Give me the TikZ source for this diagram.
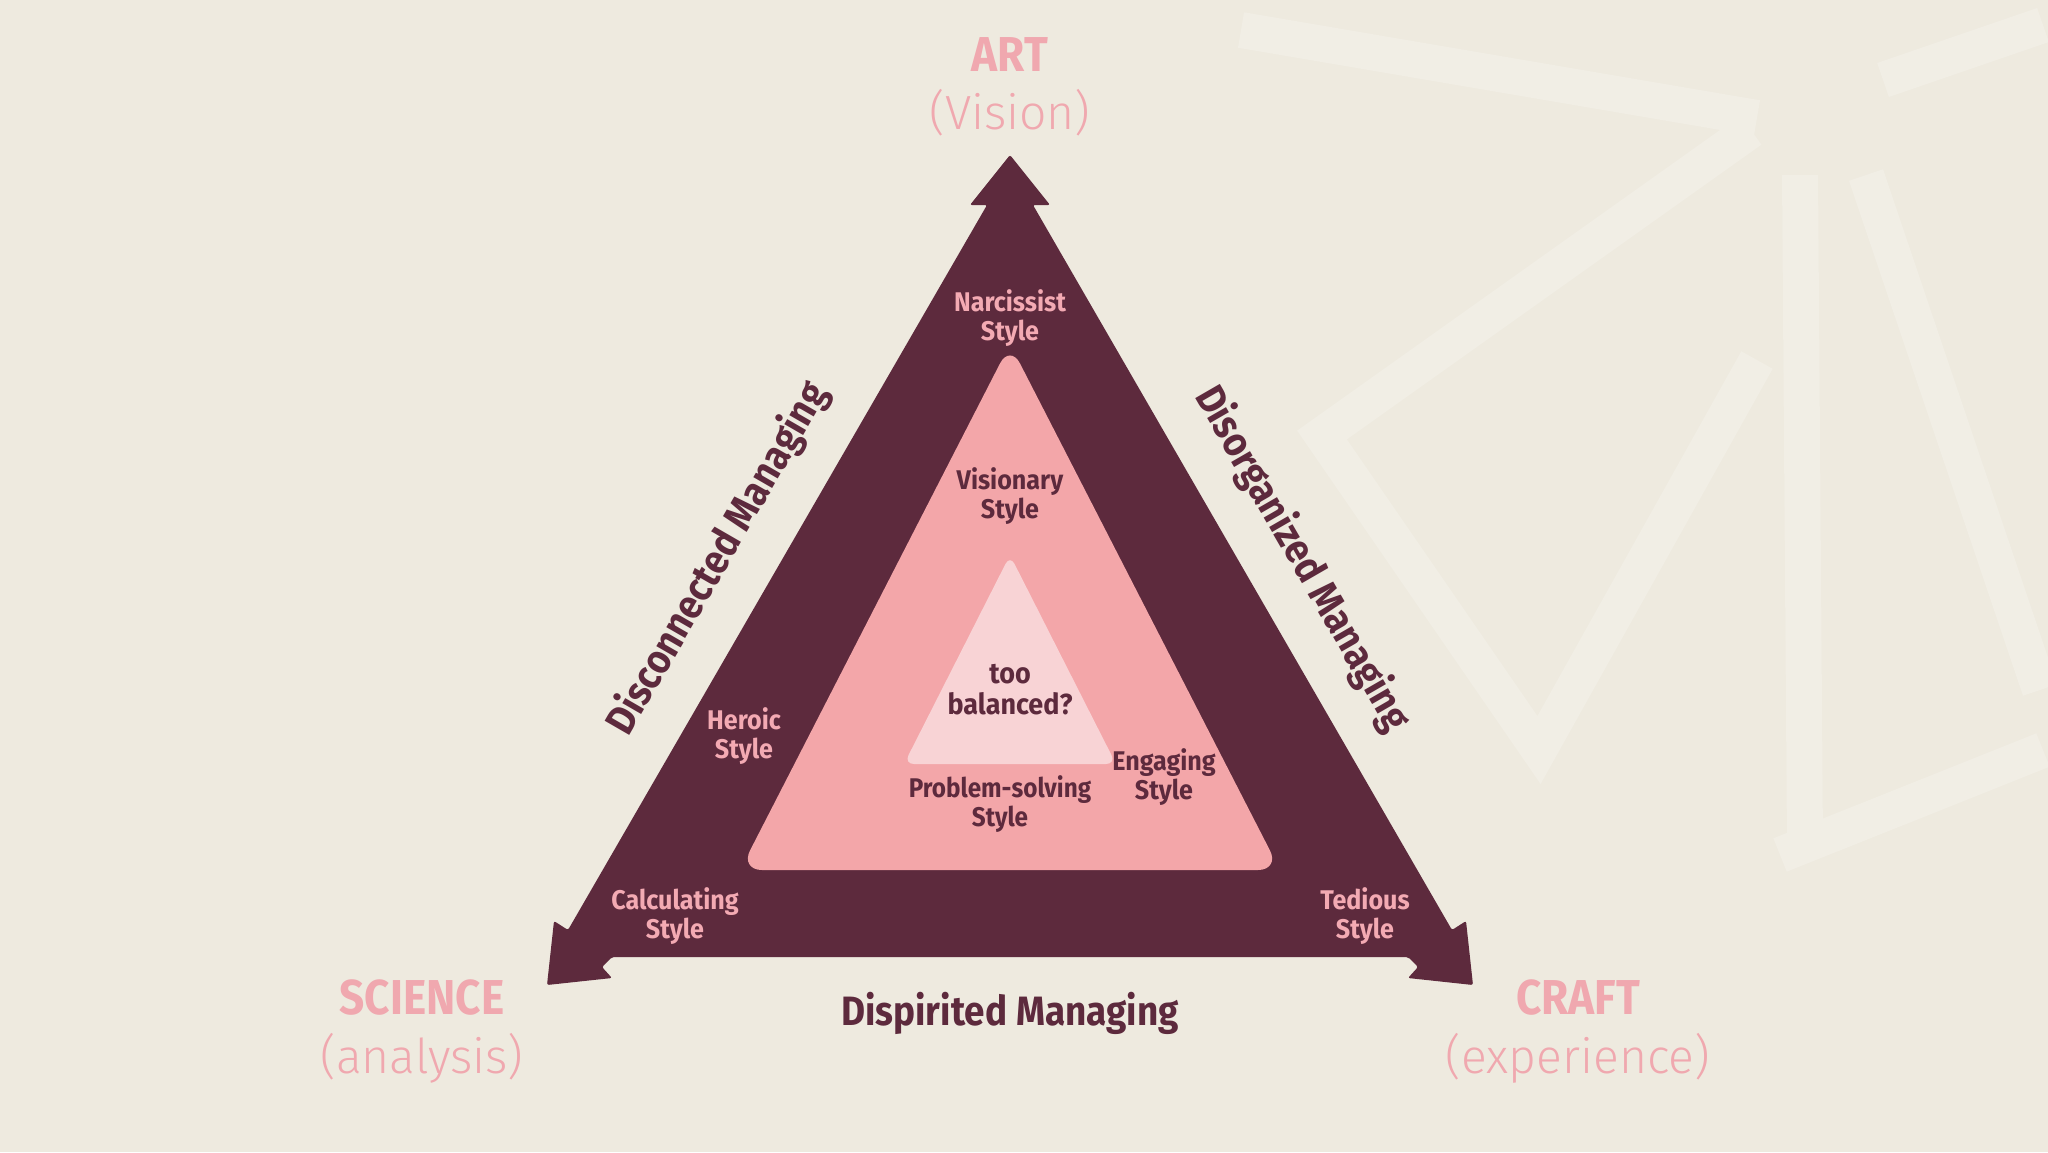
\documentclass[tikz,border=0pt]{standalone}
\usepackage{fontspec}
\setmainfont{Fira Sans}
\newfontfamily\bfc{Fira Sans Bold}[FakeStretch=0.9]
\newfontfamily\bfs{Fira Sans Bold}[FakeStretch=0.93]
\newfontfamily\ltf{Fira Sans Light}
\definecolor{bg}{HTML}{EEEADF}
\definecolor{wm}{HTML}{F1EEE5}
\definecolor{maroon}{HTML}{5D2A3D}
\definecolor{midpink}{HTML}{F3A6A9}
\definecolor{palepink}{HTML}{F8D3D5}
\definecolor{lblpink}{HTML}{F3AAB3}
\definecolor{ttlpink}{HTML}{F0A8AF}
\tikzset{
  stylelbl/.style={font=\bfs\fontsize{27}{29}\selectfont, align=center, inner sep=0pt},
  onDark/.style={stylelbl, text=lblpink},
  onPink/.style={stylelbl, text=maroon},
  sidelbl/.style={font=\bfc\fontsize{41}{44}\selectfont, text=maroon, inner sep=0pt},
  ttl/.style={font=\bfc\fontsize{49}{52}\selectfont, text=ttlpink, inner sep=0pt},
  subttl/.style={font=\ltf\fontsize{48}{52}\selectfont, text=ttlpink, inner sep=0pt},
  wmline/.style={draw=wm, line width=36pt, line cap=butt, line join=miter},
}
\begin{document}
\begin{tikzpicture}[x=1pt,y=-1pt]
\useasboundingbox (0,0) rectangle (2048,1152);
\fill[bg] (0,0) rectangle (2048,1152);
% faint watermark
\draw[wmline] (1241,30) -- (1757,118);
\draw[wmline] (1751,130) -- (1322,435) -- (1539,750) -- (1757,360);
\draw[wmline] (1800,175) -- (1805,845);
\draw[wmline] (1866,175) -- (2040,690);
\draw[wmline] (1883,80) -- (2043,25);
\draw[wmline] (1780,855) -- (2043,750);
% outer dark triangle with arrows
\fill[maroon, rounded corners=2pt]
  (1010,155) -- (1050,205) -- (1033,205)
  -- (1452,930) -- (1466,921) -- (1473,985) -- (1408,978) -- (1418,967) -- (1408,957)
  -- (612,957) -- (602,967) -- (612,978) -- (547,985) -- (554,921) -- (568,930)
  -- (987,205) -- (970,205) -- cycle;
% pink triangle
\fill[midpink, rounded corners=22pt] (1010,344) -- (1280,870) -- (740,870) -- cycle;
% pale triangle
\fill[palepink, rounded corners=10pt] (1010,555) -- (1116,764) -- (904,764) -- cycle;
% titles
\node[ttl] (art) at (1010,55) {ART};
\node[subttl] (vision) at (1010,113) {(Vision)};
\node[ttl] (science) at (422,998) {SCIENCE};
\node[subttl] (analysis) at (422,1058) {(analysis)};
\node[ttl] (craft) at (1578,998) {CRAFT};
\node[subttl] (experience) at (1578,1058) {(experience)};
% style labels
\node[onDark] (narc) at (1010,318) {Narcissist\\Style};
\node[onPink] (vis) at (1010,496) {Visionary\\Style};
\node[onPink, font=\bfs\fontsize{29}{31}\selectfont] (bal) at (1010,690) {too\\balanced?};
\node[onDark] (her) at (744,736) {Heroic\\Style};
\node[onPink] (eng) at (1164,777) {Engaging\\Style};
\node[onPink, font=\bfc\fontsize{27}{29}\selectfont] (prob) at (1000,804) {Problem-solving\\Style};
\node[onDark] (calc) at (675,916) {Calculating\\Style};
\node[onDark] (ted) at (1365,916) {Tedious\\Style};
% side labels
\node[sidelbl] (disp) at (1010,1013) {Dispirited Managing};
\node[sidelbl, rotate=60] (disc) at (718,559) {Disconnected Managing};
\node[sidelbl, rotate=-60] (diso) at (1302,559) {Disorganized Managing};
\end{tikzpicture}
\end{document}
